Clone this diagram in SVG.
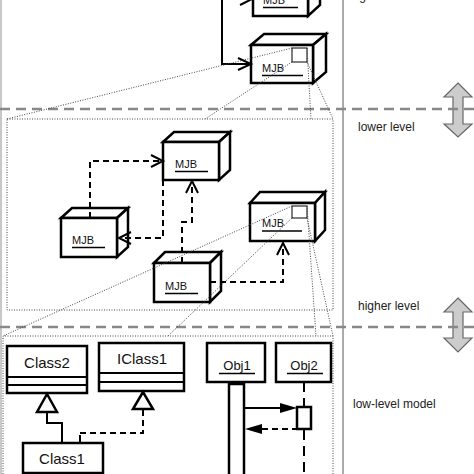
<svg xmlns="http://www.w3.org/2000/svg" width="474" height="474" viewBox="0 0 474 474">
<style>
.face{fill:#fff;stroke:#000;stroke-width:2.5;stroke-linejoin:miter}
.ul{stroke:#000;stroke-width:1.5}
.lbl{font-family:"Liberation Sans",Arial,sans-serif;font-size:11px;fill:#111}
.cls{font-family:"Liberation Sans",Arial,sans-serif;font-size:15px;fill:#111;text-anchor:middle}
.obj{font-family:"Liberation Sans",Arial,sans-serif;font-size:13px;fill:#111;text-anchor:middle}
.side{font-family:"Liberation Sans",Arial,sans-serif;font-size:12px;fill:#222}
.dash{fill:none;stroke:#000;stroke-width:2;stroke-dasharray:6,4}
.solid{fill:none;stroke:#000;stroke-width:2}
.head{fill:none;stroke:#000;stroke-width:2}
.dot{fill:none;stroke:#444;stroke-width:1;stroke-dasharray:1,1.5}
.gdash{fill:none;stroke:#888;stroke-width:2.5;stroke-dasharray:10,6}
.garrow{fill:#ccc;stroke:#666;stroke-width:1.2}
</style>
<rect width="474" height="474" fill="#fff"/>
<!-- background guides -->
<g id="guides">
<line x1="1" y1="0" x2="1" y2="474" stroke="#c8c8c8" stroke-width="2"/>
<line x1="343" y1="0" x2="343" y2="474" stroke="#aaa" stroke-width="2"/>
<polygon class="garrow" points="458,83 472,97 463,97 463,124 472,124 458,137 444,124 453,124 453,97 444,97"/>
<polygon class="garrow" points="458,298 472,312 463,312 463,338 472,338 458,352 444,338 453,338 453,312 444,312"/>
<line class="gdash" x1="0" y1="109" x2="474" y2="109"/>
<line class="gdash" x1="0" y1="327" x2="474" y2="327"/>
<rect class="dot" x="7" y="119" width="326" height="191"/>
<path class="dot" d="M3,474 V336 H333 V474"/>
<text class="side" x="350" y="0">high-level model</text>
<text class="side" x="358" y="131">lower level</text>
<text class="side" x="358" y="310">higher level</text>
<text class="side" x="353" y="408">low-level model</text>
</g>
<!-- nodes -->
<g id="node-top">
<polygon class="face" points="253,-22 265,-33 320,-33 308,-22"/>
<polygon class="face" points="308,-22 320,-33 320,5 308,16"/>
<rect class="face" x="253" y="-22" width="55" height="38"/>
<text class="lbl" x="263" y="4">MJB</text>
<line class="ul" x1="263" y1="7.5" x2="298" y2="7.5"/>
</g>
<g id="node-upper">
<polygon class="face" points="251,45 264,34 326,34 313,45"/>
<polygon class="face" points="313,45 326,34 326,72 313,83"/>
<rect class="face" x="251" y="45" width="62" height="38"/>
<rect x="292" y="48" width="15" height="14" fill="#fff" stroke="#000" stroke-width="1"/>
<text class="lbl" x="262" y="72">MJB</text>
<line class="ul" x1="262" y1="75.5" x2="303" y2="75.5"/>
</g>
<g id="node-a">
<polygon class="face" points="163,142 174,132 230,132 219,142"/>
<polygon class="face" points="219,142 230,132 230,170 219,180"/>
<rect class="face" x="163" y="142" width="56" height="38"/>
<text class="lbl" x="175" y="168">MJB</text>
<line class="ul" x1="175" y1="171.5" x2="208" y2="171.5"/>
</g>
<g id="node-b">
<polygon class="face" points="61,218 72,208 128,208 117,218"/>
<polygon class="face" points="117,218 128,208 128,247 117,257"/>
<rect class="face" x="61" y="218" width="56" height="39"/>
<text class="lbl" x="72" y="244">MJB</text>
<line class="ul" x1="72" y1="247.5" x2="105" y2="247.5"/>
</g>
<g id="node-c">
<polygon class="face" points="250,203 260,192 325,192 315,203"/>
<polygon class="face" points="315,203 325,192 325,230 315,241"/>
<rect class="face" x="250" y="203" width="65" height="38"/>
<rect x="292" y="206" width="15" height="12" fill="#fff" stroke="#000" stroke-width="1"/>
<text class="lbl" x="262" y="227">MJB</text>
<line class="ul" x1="262" y1="231" x2="302" y2="231"/>
</g>
<g id="node-d">
<polygon class="face" points="154,263 165,252 221,252 210,263"/>
<polygon class="face" points="210,263 221,252 221,291 210,302"/>
<rect class="face" x="154" y="263" width="56" height="39"/>
<text class="lbl" x="165" y="290">MJB</text>
<line class="ul" x1="165" y1="293.5" x2="198" y2="293.5"/>
</g>
<g id="class2">
<rect class="face" x="7" y="346" width="80" height="47"/>
<line class="solid" x1="7" y1="377" x2="87" y2="377" stroke-width="2.5"/>
<line class="solid" x1="7" y1="385" x2="87" y2="385" stroke-width="2.5"/>
<text class="cls" x="47" y="368">Class2</text>
</g>
<g id="iclass1">
<rect class="face" x="99" y="343" width="85" height="48"/>
<line class="solid" x1="99" y1="373" x2="184" y2="373" stroke-width="2.5"/>
<line class="solid" x1="99" y1="382" x2="184" y2="382" stroke-width="2.5"/>
<text class="cls" x="142" y="364">IClass1</text>
</g>
<g id="class1">
<rect class="face" x="23" y="443" width="80" height="30"/>
<text class="cls" x="62" y="464">Class1</text>
</g>
<g id="obj1">
<rect class="face" x="207" y="343" width="58" height="39"/>
<text class="obj" x="237" y="370">Obj1</text>
<line class="ul" x1="219" y1="373.5" x2="255" y2="373.5"/>
<line class="solid" x1="236" y1="382" x2="236" y2="384"/>
<rect class="face" x="229" y="384" width="15" height="95"/>
</g>
<g id="obj2">
<rect class="face" x="276" y="343" width="55" height="39"/>
<text class="obj" x="304" y="370">Obj2</text>
<line class="ul" x1="287" y1="373.5" x2="323" y2="373.5"/>
<line x1="304" y1="382" x2="304" y2="474" stroke="#000" stroke-width="2" stroke-dasharray="10,6"/>
<rect class="face" x="297" y="407" width="14" height="22"/>
</g>
<!-- connectors -->
<g id="connectors">
<path class="solid" d="M222,0 V64 H250"/>
<path class="head" d="M238,58 L251,64 L238,70"/>
<path class="solid" d="M222,-1 H252"/>
<path class="head" d="M240,-7 L252,-1 L240,5"/>
<path class="dash" d="M90,218 V161 H161"/>
<path class="head" d="M151,155 L163,161 L151,167"/>
<path class="dash" d="M163,180 V238 H121"/>
<path class="head" d="M131,232 L119,238 L131,244"/>
<path class="dash" d="M182,263 V222 H192 V183"/>
<path class="head" d="M186,193 L192,181 L198,193"/>
<path class="dash" d="M210,282 H283 V245"/>
<path class="head" d="M277,255 L283,243 L289,255"/>
<path class="solid" d="M62,443 V423 H47 V412"/>
<polygon points="47,394 37,412 57,412" fill="#fff" stroke="#000" stroke-width="2.5"/>
<path class="solid" d="M80,443 V435"/>
<path class="dash" d="M80,433 H143 V410"/>
<polygon points="143,392 133,409 153,409" fill="#fff" stroke="#000" stroke-width="2.5"/>
<line class="solid" x1="244" y1="408" x2="282" y2="408"/>
<polygon points="297,408 280,403 280,413" fill="#000"/>
<line class="dash" x1="262" y1="429" x2="297" y2="429"/>
<polygon points="245,429 262,424 262,434" fill="#000"/>
<!-- projection lines -->
<line class="dot" x1="292" y1="48" x2="7" y2="119"/>
<line class="dot" x1="292" y1="62" x2="205" y2="119"/>
<line class="dot" x1="307" y1="48" x2="311" y2="119"/>
<line class="dot" x1="307" y1="62" x2="333" y2="119"/>
<line class="dot" x1="292" y1="206" x2="3" y2="336"/>
<line class="dot" x1="292" y1="218" x2="168" y2="336"/>
<line class="dot" x1="307" y1="206" x2="316" y2="336"/>
<line class="dot" x1="307" y1="218" x2="333" y2="336"/>
</g>
</svg>
